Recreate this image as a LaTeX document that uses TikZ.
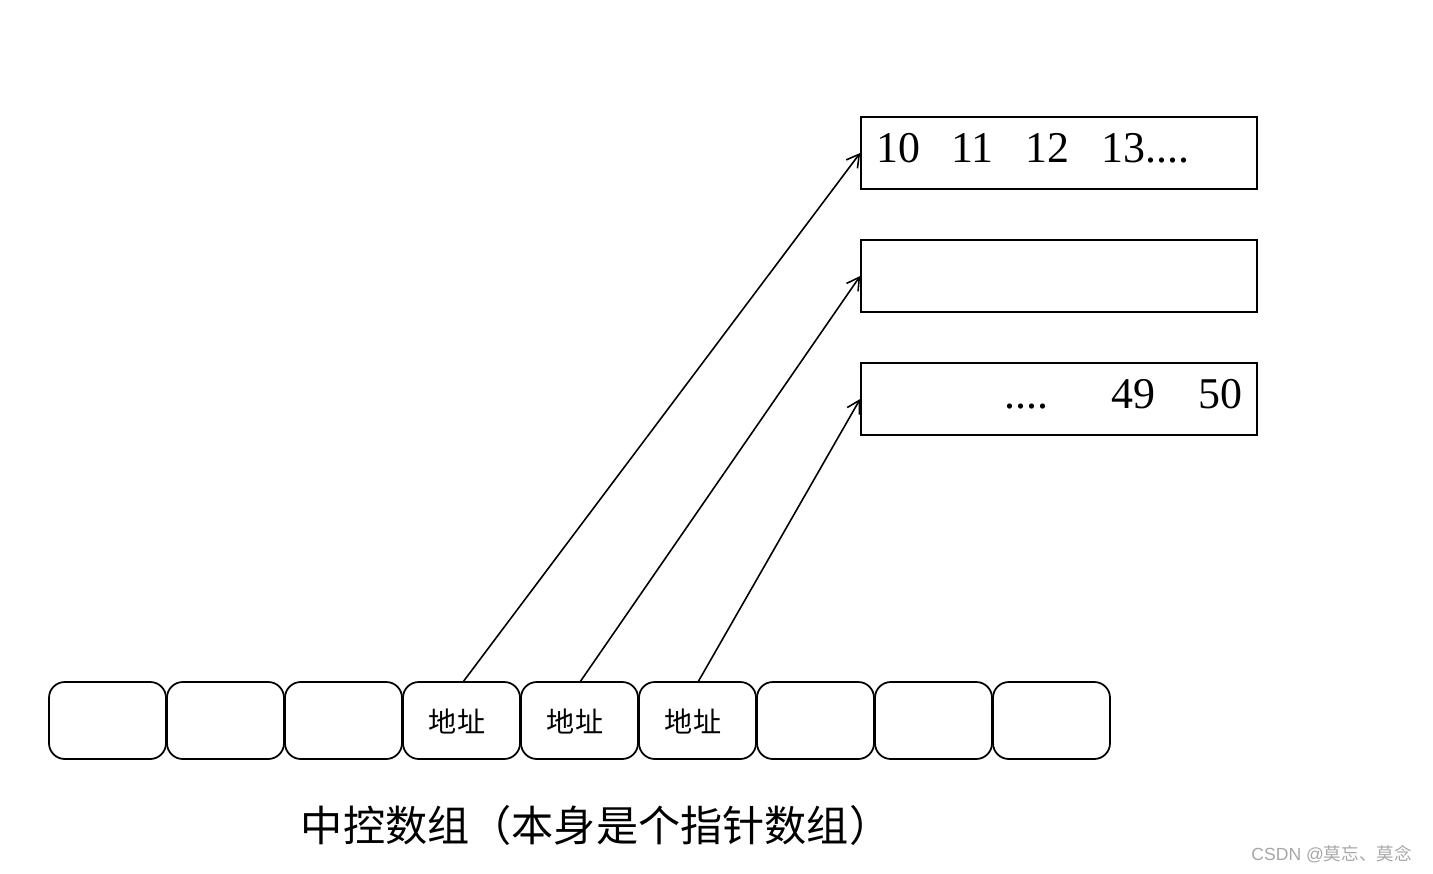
\documentclass[tikz,border=0pt]{standalone}
\usepackage{fontspec}
\usetikzlibrary{arrows.meta}
\setmainfont{Liberation Serif}
\newfontfamily\cjk{Noto Sans CJK SC}
\begin{document}
\begin{tikzpicture}[x=0.02cm,y=-0.02cm,
  cell/.style={draw,line width=1pt,rounded corners=9pt},
  rbox/.style={draw,line width=1pt},
  arr/.style={-{Straight Barb[length=7pt,width=8pt]},line width=0.9pt},
  num/.style={font=\fontsize{25}{25}\selectfont,inner sep=0pt,anchor=base west}]
\useasboundingbox (0,0) rectangle (1433,874);
\foreach \i/\a in {0/49,1/167,2/285,3/403,4/521,5/639,6/757,7/875,8/993}{
  \draw[cell] (\a,682) rectangle ++(117,77);
  \coordinate (m\i) at (\a+54,721);
}
\node[font=\cjk\fontsize{16}{16}\selectfont] (t3) at (m3) {地址};
\node[font=\cjk\fontsize{16}{16}\selectfont] (t4) at (m4) {地址};
\node[font=\cjk\fontsize{16}{16}\selectfont] (t5) at (m5) {地址};
\node[rbox,minimum width=7.92cm,minimum height=1.44cm,inner sep=0pt] (b1) at (1059,153) {};
\node[rbox,minimum width=7.92cm,minimum height=1.44cm,inner sep=0pt] (b2) at (1059,276) {};
\node[rbox,minimum width=7.92cm,minimum height=1.44cm,inner sep=0pt] (b3) at (1059,399) {};
\node[num] (n1) at (876,163) {10};
\node[num] (n2) at (951,163) {11};
\node[num] (n3) at (1025,163) {12};
\node[num] (n4) at (1101,163) {13....};
\node[num] (n5) at (1004,409) {....};
\node[num] (n6) at (1111,409) {49};
\node[num] (n7) at (1198,409) {50};
\draw[arr] (463,682) -- (b1.west);
\draw[arr] (580,682) -- (b2.west);
\draw[arr] (698,682) -- (b3.west);
\node[font=\cjk\fontsize{24}{24}\selectfont] (cap) at (596,825) {中控数组（本身是个指针数组）};
\node[font=\cjk\fontsize{10}{10}\selectfont,text=gray!70,anchor=east] (wm) at (1418,854) {\fontspec{Liberation Sans}CSDN @\cjk 莫忘、莫念};
\end{tikzpicture}
\end{document}
